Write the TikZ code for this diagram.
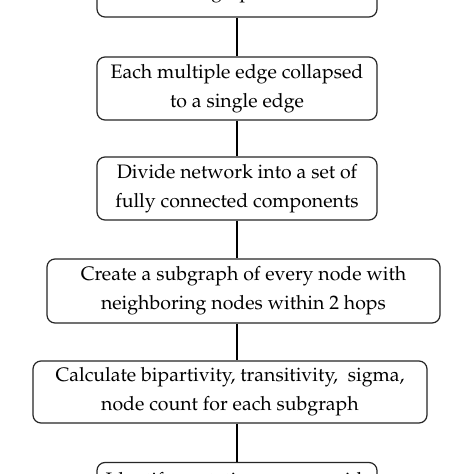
\documentclass[tikz,border=0pt]{standalone}
\usepackage[T1]{fontenc}
\usepackage{mathpazo}
\tikzset{
  stepbox/.style={draw=black!85, line width=1.2pt, rounded corners=8pt, align=center,
    inner sep=0pt, minimum width=280pt, minimum height=63pt,
    font=\fontsize{19.5}{29}\selectfont},
  link/.style={line width=1.8pt, black}
}
\begin{document}
\begin{tikzpicture}[x=1pt,y=-1pt]
\useasboundingbox (0,0) rectangle (474,474);
\clip (0,0) rectangle (474,474);
\fill[white] (0,0) rectangle (474,474);
\node[stepbox] (b1) at (237,-14.5) {\mbox{}\\graph};
\node[stepbox] (b2) at (237,88.5) {Each multiple edge collapsed\\to a single edge};
\node[stepbox] (b3) at (237,188.5) {Divide network into a set of\\fully connected components};
\node[stepbox, minimum width=393pt, minimum height=64pt] (b4) at (243.5,291) {Create a subgraph of every node with\\neighboring nodes within 2 hops};
\node[stepbox, minimum width=394pt, minimum height=62pt] (b5) at (230,392) {Calculate bipartivity, transitivity,\ \ sigma,\\node count for each subgraph};
\node[stepbox] (b6) at (237,494) {Identify mutation groups with\\\mbox{}};
\draw[link] (b1.south) -- (b2.north);
\draw[link] (b2.south) -- (b3.north);
\draw[link] (b3.south) -- (b3.south |- b4.north);
\draw[link] (b3.south |- b4.south) -- (b3.south |- b5.north);
\draw[link] (b3.south |- b5.south) -- (b6.north);
\end{tikzpicture}
\end{document}
